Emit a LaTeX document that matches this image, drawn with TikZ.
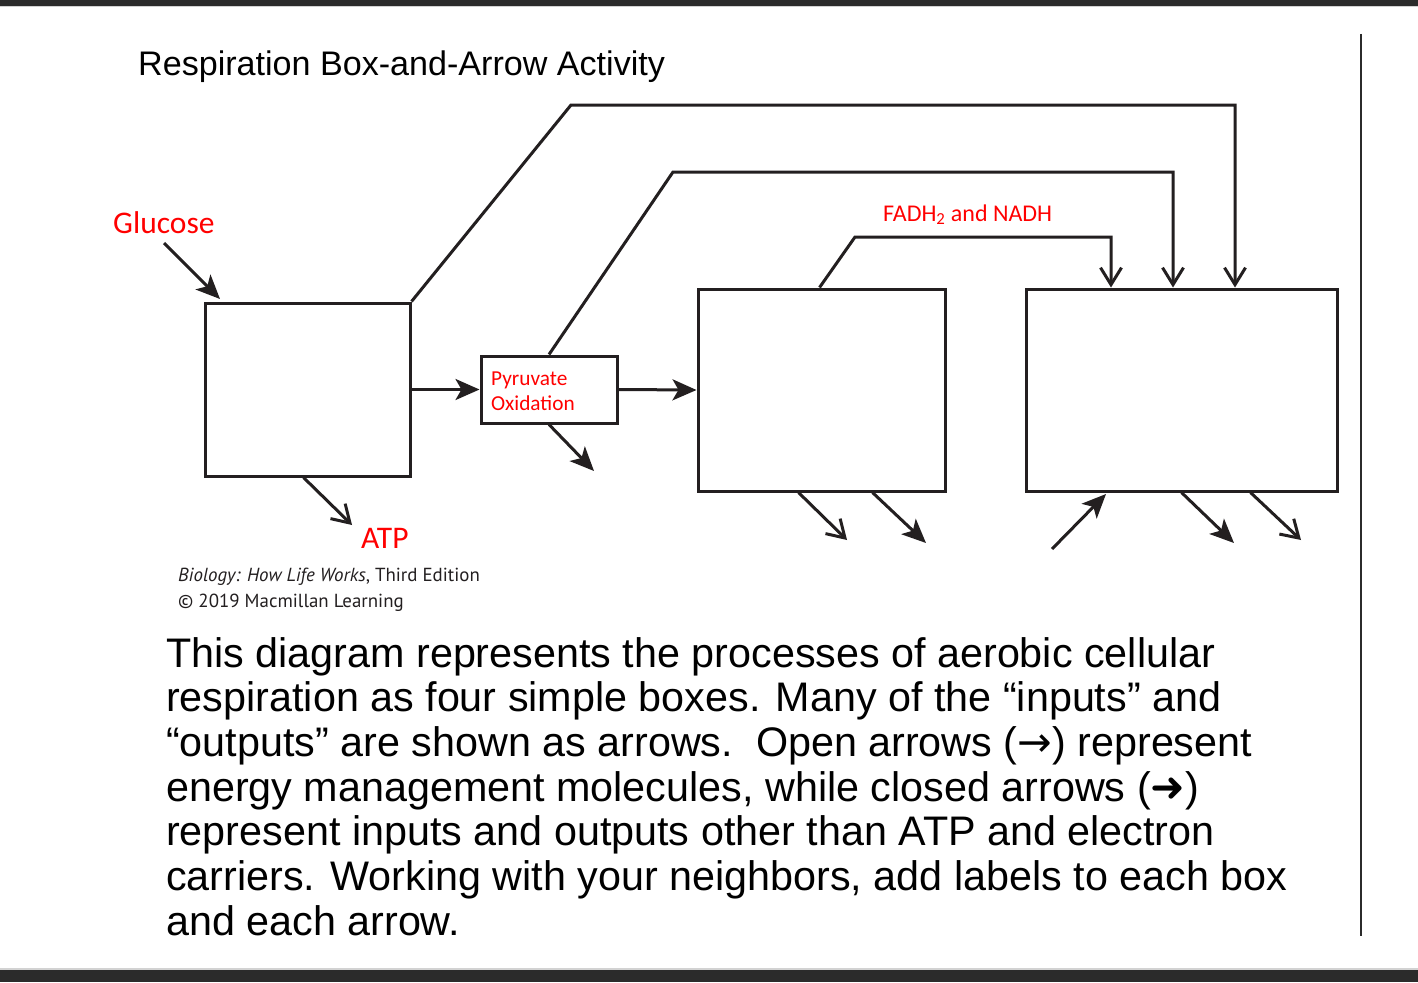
\documentclass[tikz,border=0pt]{standalone}
\usepackage{fontspec}
\setmainfont{Liberation Sans}
\newfontfamily\calib{Carlito}
\newfontfamily\myriad{PT Sans}
\newfontfamily\dejavu{DejaVu Sans}
\usetikzlibrary{arrows.meta}
\definecolor{inkc}{HTML}{231F20}
\definecolor{barc}{HTML}{2B2B2B}
\definecolor{redc}{HTML}{FF0000}
\tikzset{
  procbox/.style={draw=inkc, line width=3pt, rectangle, fill=white, inner sep=0pt},
  closedarrow/.style={draw=inkc, line width=3pt, -{Stealth[length=24pt,width=21pt,inset=6pt]}},
  openarrow/.style={draw=inkc, line width=3pt, line join=miter, -{Straight Barb[length=17pt,width=21pt]}},
  lbl/.style={inner sep=0pt, anchor=base west, text=redc, font=\calib\fontsize{31.5}{36}\selectfont},
  smalllbl/.style={inner sep=0pt, anchor=base west, text=redc, font=\calib\fontsize{21.3}{25}\selectfont},
  creditlbl/.style={inner sep=0pt, anchor=base west, text=inkc, font=\myriad\fontsize{18.9}{22}\selectfont},
}
\begin{document}
\begin{tikzpicture}[x=1pt,y=-1pt]
\useasboundingbox (0,0) rectangle (1418,982);
\fill[white] (0,0) rectangle (1418,982);
% frame bars
\fill[barc] (0,0) rectangle (1418,6);
\fill[gray!35] (0,6) rectangle (1418,7.5);
\fill[gray!35] (0,967.5) rectangle (1418,970);
\fill[barc] (0,970) rectangle (1418,982);
\draw[barc, line width=2pt] (1361,34) -- (1361,936);

% title
\node[inner sep=0pt, anchor=base west, font=\fontsize{34.1}{40}\selectfont] (title) at (138,75) {Respiration Box-and-Arrow Activity};

% boxes
\node[procbox, minimum width=205pt, minimum height=173pt] (glyc) at (307.5,389.5) {};
\node[procbox, minimum width=136pt, minimum height=67pt] (pyr) at (549,389.5) {};
\node[procbox, minimum width=247pt, minimum height=202pt] (krebs) at (821.5,390) {};
\node[procbox, minimum width=311pt, minimum height=202pt] (etc) at (1181.5,390) {};

\node[smalllbl] (pyrt1) at (491,385) {Pyruvate};
\node[smalllbl] (pyrt2) at (491,410) {Oxidation};

% labels
\node[lbl] (glucose) at (113,233) {Glucose};
\node[lbl] (atp) at (361,548) {ATP};
\node[smalllbl, font=\calib\fontsize{24}{28}\selectfont] (fadh) at (883,221) {FADH\textsubscript{2} and NADH};

% coordinates
\coordinate (gin) at (164,243);
\coordinate (gtip) at (220,299);
\coordinate (l1a) at (571,105);
\coordinate (l1b) at (1235,105);
\coordinate (l2a) at (673,172);
\coordinate (l2b) at (1173,172);
\coordinate (l3a) at (855,237);
\coordinate (l3b) at (1111,237);
\coordinate (atptip) at (352,525);
\coordinate (pyrout) at (594,471);
\coordinate (k1) at (847,540);
\coordinate (k2) at (926,543);
\coordinate (ein) at (1052,549);
\coordinate (etip) at (1106,494);
\coordinate (e1) at (1234,543);
\coordinate (e2) at (1301,540);

% connectors
\draw[closedarrow] (gin) -- (gtip);
\draw[closedarrow] (glyc.east) -- (pyr.west);
\draw[closedarrow] (pyr.east) -- (krebs.west);
\draw[openarrow] (glyc.north east) -- (l1a) -- (l1b) -- (l1b |- etc.north);
\draw[openarrow] (pyr.north) -- (l2a) -- (l2b) -- (l2b |- etc.north);
\draw[openarrow] ([xshift=-2pt]krebs.north) -- (l3a) -- (l3b) -- (l3b |- etc.north);
\draw[openarrow] ([xshift=-4pt]glyc.south) -- (atptip);
\draw[closedarrow] (pyr.south) -- (pyrout);
\draw[openarrow] ([xshift=102pt]krebs.south west) -- (k1);
\draw[closedarrow] ([xshift=176pt]krebs.south west) -- (k2);
\draw[closedarrow] (ein) -- (etip);
\draw[closedarrow] ([xshift=157pt]etc.south west) -- (e1);
\draw[openarrow] ([xshift=226pt]etc.south west) -- (e2);

% credit
\node[creditlbl] (credit1) at (178,581) {\textit{Biology: How Life Works}, Third Edition};
\node[creditlbl] (credit2) at (178,607) {© 2019 Macmillan Learning};

% body text
\node[inner sep=0pt, anchor=north west, align=left, font=\fontsize{41.3}{44.7}\selectfont] (body) at (166,637) {%
This diagram represents the processes of aerobic cellular\\
respiration as four simple boxes. Many of the ``inputs'' and\\
``outputs'' are shown as arrows.\ \ Open arrows ({\dejavu →}) represent\\
energy management molecules, while closed arrows ({\dejavu ➜})\\
represent inputs and outputs other than ATP and electron\\
carriers. Working with your neighbors, add labels to each box\\
and each arrow.};
\end{tikzpicture}
\end{document}
